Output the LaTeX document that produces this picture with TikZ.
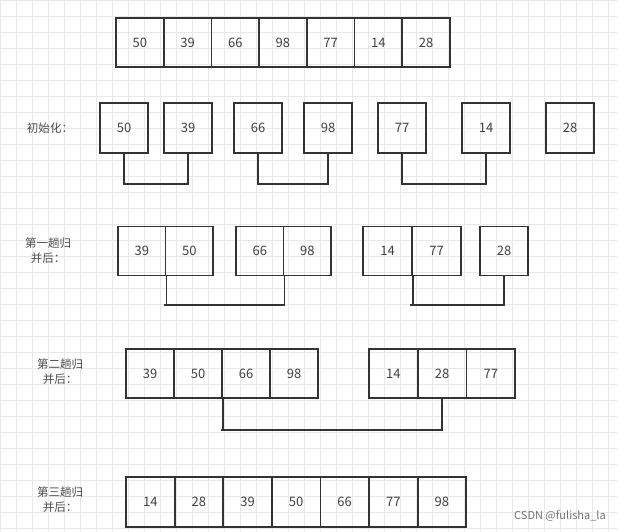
\documentclass[tikz,border=0pt]{standalone}
\usepackage{fontspec}
\setmainfont{Noto Sans CJK SC}
\begin{document}
\begin{tikzpicture}[x=1pt,y=-1pt,
  cell/.style={draw=black!80,line width=1.8pt,minimum width=48pt,minimum height=49pt,inner sep=0pt,font=\fontsize{13}{13}\selectfont,text=black!75},
  link/.style={draw=black!80,line width=1.8pt},
  lab/.style={font=\fontsize{11.5}{15}\selectfont,text=black!70,align=center}]
\fill[white] (0,0) rectangle (631,531);
\useasboundingbox (0,0) rectangle (631,531);
\foreach \i in {0,16,...,616} \draw[black!9,line width=0.8pt] (\i,0) -- (\i,531);
\foreach \j in {0,16,...,528} \draw[black!9,line width=0.8pt] (0,\j) -- (617,\j);
% row 0
\foreach \v [count=\k] in {50,39,66,98,77,14,28}
  \node[cell,minimum width=47.7pt] (a\k) at ({116+23.85+47.7*(\k-1)},42.5) {\v};
% row 1
\node[lab] (l1) at (50,128) {初始化：};
\foreach \v/\x [count=\k] in {50/124,39/188,66/258,98/328,77/402,14/486,28/570}
  \node[cell,minimum height=50pt] (b\k) at (\x,128) {\v};
\draw[link] (b1.south) |- (124,184) -| (b2.south);
\draw[link] (b3.south) |- (258,184) -| (b4.south);
\draw[link] (b5.south) |- (402,184) -| (b6.south);
% row 2
\node[lab] (l2) at (48,251) {第一趟归\\并后：};
\node[cell,minimum width=47.5pt] (c1) at (141.75,251) {39};
\node[cell,minimum width=47.5pt] (c2) at (189.25,251) {50};
\node[cell,minimum width=47.5pt] (c3) at (259.75,251) {66};
\node[cell,minimum width=47.5pt] (c4) at (307.25,251) {98};
\node[cell,minimum width=49pt] (c5) at (387.5,251) {14};
\node[cell,minimum width=49pt] (c6) at (436.5,251) {77};
\node[cell] (c7) at (504,251) {28};
\draw[link] (c1.south east) |- (164,305) -| (c3.south east);
\draw[link] (c5.south east) |- (410,305) -| (c7.south);
% row 3
\node[lab] (l3) at (60,372) {第二趟归\\并后：};
\foreach \v [count=\k] in {39,50,66,98}
  \node[cell] (d\k) at ({126+24+48*(\k-1)},373.5) {\v};
\foreach \v [count=\k] in {14,28,77}
  \node[cell,minimum width=48.7pt] (e\k) at ({369+24.35+48.7*(\k-1)},373.5) {\v};
\draw[link] (d2.south east) |- (221,430) -| (e2.south);
% row 4
\node[lab] (l4) at (60,500) {第三趟归\\并后：};
\foreach \v [count=\k] in {14,28,39,50,66,77,98}
  \node[cell,minimum width=48.6pt,minimum height=50pt] (f\k) at ({126+24.3+48.6*(\k-1)},502) {\v};
\node[font=\fontsize{11}{11}\selectfont,text=black!55] (wm) at (560,516) {CSDN @fulisha\_la};
\end{tikzpicture}
\end{document}
